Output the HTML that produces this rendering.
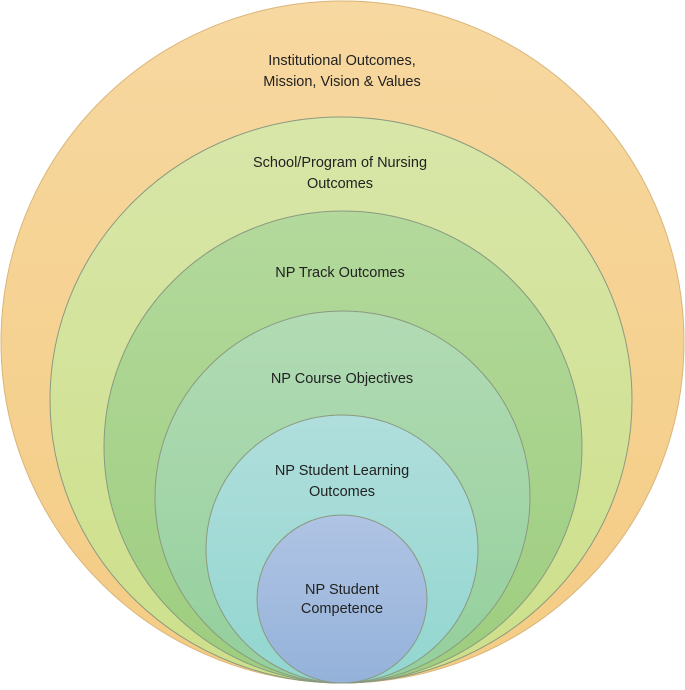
<!DOCTYPE html>
<html><head><meta charset="utf-8"><style>
html,body{margin:0;padding:0;background:#fff;}
</style></head><body>
<svg width="685" height="685" viewBox="0 0 685 685" xmlns="http://www.w3.org/2000/svg">
<defs>
<linearGradient id="g1" x1="0" y1="0" x2="0" y2="1"><stop offset="0" stop-color="#f7d8a0"/><stop offset="1" stop-color="#f4cc84"/></linearGradient>
<linearGradient id="g2" x1="0" y1="0" x2="0" y2="1"><stop offset="0" stop-color="#d8e6a8"/><stop offset="1" stop-color="#cde08a"/></linearGradient>
<linearGradient id="g3" x1="0" y1="0" x2="0" y2="1"><stop offset="0" stop-color="#b3d99c"/><stop offset="1" stop-color="#9dcd7e"/></linearGradient>
<linearGradient id="g4" x1="0" y1="0" x2="0" y2="1"><stop offset="0" stop-color="#b2dbb4"/><stop offset="1" stop-color="#93cf9c"/></linearGradient>
<linearGradient id="g5" x1="0" y1="0" x2="0" y2="1"><stop offset="0" stop-color="#b0dedc"/><stop offset="1" stop-color="#92d6d0"/></linearGradient>
<linearGradient id="g6" x1="0" y1="0" x2="0" y2="1"><stop offset="0" stop-color="#b0c4e4"/><stop offset="1" stop-color="#94b2da"/></linearGradient>
</defs>
<g stroke="#8a9a80" stroke-width="1">
<ellipse cx="342.5" cy="342" rx="341.5" ry="341" fill="url(#g1)" stroke="#d9b57a"/>
<ellipse cx="341" cy="400" rx="291" ry="283" fill="url(#g2)"/>
<ellipse cx="343" cy="447" rx="239" ry="236" fill="url(#g3)"/>
<ellipse cx="342.5" cy="497" rx="187.5" ry="186" fill="url(#g4)"/>
<ellipse cx="342" cy="549" rx="136" ry="134" fill="url(#g5)"/>
<ellipse cx="342" cy="599" rx="85" ry="84" fill="url(#g6)"/>
</g>
<g font-family="Liberation Sans, sans-serif" font-size="14.5" fill="#222" text-anchor="middle">
<text x="342" y="65">Institutional Outcomes,</text>
<text x="342" y="86">Mission, Vision &amp; Values</text>
<text x="340" y="167">School/Program of Nursing</text>
<text x="340" y="188">Outcomes</text>
<text x="340" y="277">NP Track Outcomes</text>
<text x="342" y="383">NP Course Objectives</text>
<text x="342" y="475">NP Student Learning</text>
<text x="342" y="496">Outcomes</text>
<text x="342" y="594">NP Student</text>
<text x="342" y="613">Competence</text>
</g>
</svg>
</body></html>
